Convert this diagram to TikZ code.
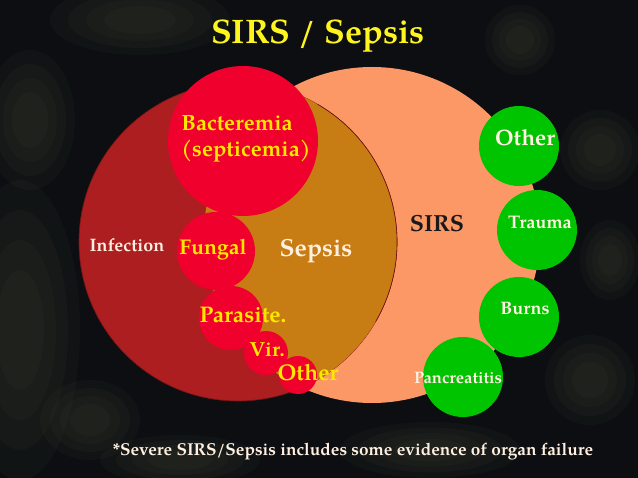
\documentclass[tikz,border=0pt]{standalone}
\usepackage{fontspec}
\setmainfont{TeX Gyre Pagella}
\begin{document}
\begin{tikzpicture}[x=1pt,y=-1pt,
  blob/.style={circle,inner sep=0pt,outer sep=0pt},
  lbl/.style={inner sep=0pt,font=\bfseries},
  bg/.style={fill=bgblob,opacity=0.12}]
\definecolor{bgcol}{RGB}{12,14,17}
\definecolor{bgblob}{RGB}{60,64,48}
\definecolor{infred}{RGB}{172,30,32}
\definecolor{sepsbrown}{RGB}{200,124,20}
\definecolor{sirsorange}{RGB}{252,152,102}
\definecolor{brightred}{RGB}{240,0,44}
\definecolor{ytext}{RGB}{255,232,0}
\definecolor{titley}{RGB}{255,245,30}
\definecolor{gcirc}{RGB}{0,196,0}
\definecolor{cream}{RGB}{255,240,225}
% background
\fill[bgcol] (0,0) rectangle (638,478);
\useasboundingbox (0,0) rectangle (638,478);
\foreach \cx/\cy/\rx/\ry in {20/330/60/150, 30/120/45/70, 140/20/90/35, 600/150/40/40, 590/380/45/45, 520/40/35/35, 430/450/90/28, 180/460/80/25, 90/420/50/40, 610/260/30/40}{
  \foreach \k in {1,0.8,0.6,0.4}{
    \fill[bg] (\cx,\cy) ellipse ({\rx*\k} and {\ry*\k});
  }
}
% SIRS circle
\node[blob,fill=sirsorange,minimum size=336pt] (sirs) at (372,235) {};
% Infection circle
\node[blob,fill=infred,minimum size=318pt,draw=infred!70!black,line width=0.6pt] (inf) at (238,242) {};
% Sepsis intersection
\begin{scope}
  \clip (372,235) circle (168);
  \fill[sepsbrown] (238,242) circle (159);
\end{scope}
\draw[infred!60!black,line width=0.6pt] (238,242) ++(30:159) arc (30:-60:159);
% red circles
\node[blob,fill=brightred,minimum size=150pt] (bact) at (243,141) {};
\node[blob,fill=brightred,minimum size=78pt] (fung) at (216,251) {};
\node[blob,fill=brightred,minimum size=64pt] (para) at (231,318) {};
\node[blob,fill=brightred,minimum size=44pt] (vir) at (266,353) {};
\node[blob,fill=brightred,minimum size=38pt] (oth1) at (298,375) {};
% green circles
\node[blob,fill=gcirc,minimum size=80pt] (oth2) at (519,146) {};
\node[blob,fill=gcirc,minimum size=80pt] (trau) at (537,230) {};
\node[blob,fill=gcirc,minimum size=80pt] (burn) at (519,317) {};
\node[blob,fill=gcirc,minimum size=80pt] (panc) at (463,377) {};
% labels
\node[lbl,text=titley,font=\bfseries\fontsize{34}{38}\selectfont] (title) at (318,36) {SIRS / Sepsis};
\node[lbl,text=ytext,font=\bfseries\fontsize{22}{26}\selectfont,align=left] (tbact) at (246,139) {Bacteremia\\(septicemia)};
\node[lbl,text=cream,font=\bfseries\fontsize{18}{20}\selectfont] (tinf) at (127,245) {Infection};
\node[lbl,text=ytext,font=\bfseries\fontsize{21.3}{24}\selectfont] (tfung) at (213,250) {Fungal};
\node[lbl,text=cream,font=\bfseries\fontsize{24.7}{30}\selectfont] (tseps) at (316,251) {Sepsis};
\node[lbl,text=ytext,font=\bfseries\fontsize{22.6}{24}\selectfont] (tpara) at (243,315) {Parasite.};
\node[lbl,text=ytext,font=\bfseries\fontsize{20.4}{22}\selectfont] (tvir) at (267,350) {Vir.};
\node[lbl,text=ytext,font=\bfseries\fontsize{22.7}{24}\selectfont] (toth1) at (308,373) {Other};
\node[lbl,text=black!90,font=\bfseries\fontsize{23.3}{28}\selectfont] (tsirs) at (437,224) {SIRS};
\node[lbl,text=cream,font=\bfseries\fontsize{22.3}{24}\selectfont] (toth2) at (525,138) {Other};
\node[lbl,text=cream,font=\bfseries\fontsize{18.2}{20}\selectfont] (ttrau) at (540,222) {Trauma};
\node[lbl,text=cream,font=\bfseries\fontsize{18}{20}\selectfont] (tburn) at (525,309) {Burns};
\node[lbl,text=cream,font=\bfseries\fontsize{16.6}{18}\selectfont] (tpanc) at (458,378) {Pancreatitis};
\node[lbl,text=cream,font=\bfseries\fontsize{17.2}{20}\selectfont] (foot) at (353,452) {*Severe SIRS/Sepsis includes some evidence of organ failure};
\end{tikzpicture}
\end{document}
